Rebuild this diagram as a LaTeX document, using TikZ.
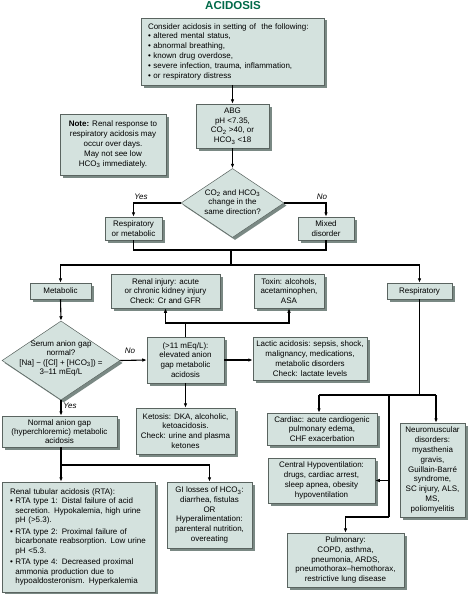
\documentclass[tikz,border=0pt]{standalone}
\usepackage{fontspec}
\setmainfont{Liberation Sans}
\usetikzlibrary{shapes.geometric,arrows.meta,shadows}
\definecolor{boxfill}{RGB}{212,226,222}
\definecolor{shadowc}{RGB}{122,137,132}
\definecolor{boxdraw}{RGB}{90,100,96}
\definecolor{titlec}{RGB}{0,105,72}
\newcommand{\fs}{\fontsize{8}{9.8}\selectfont}
\newcommand{\ind}{\phantom{\textbullet\ }}
\begin{document}
\begin{tikzpicture}[x=1pt,y=-1pt,
  shad/.style={drop shadow={shadow xshift=2.5pt,shadow yshift=-2.5pt,fill=shadowc,opacity=1}},
  box/.style={draw=boxdraw, line width=0.5pt, fill=boxfill, shad, align=center, font=\fs, inner sep=2pt},
  dia/.style={diamond, draw=boxdraw, line width=0.5pt, fill=boxfill, shad, inner sep=0pt},
  txt/.style={align=center, font=\fs, inner sep=0pt},
  conn/.style={line width=1.1pt},
  arr/.style={conn, -{Latex[length=4.5pt,width=3.6pt]}},
  lbl/.style={font=\fs\itshape, inner sep=0pt}
]
\useasboundingbox (0,0) rectangle (474,594);

\node[font=\fontsize{11.5}{13}\selectfont\bfseries, text=titlec, anchor=base, inner sep=0pt] (title) at (233,9.6) {ACIDOSIS};

\node[box, minimum width=183pt, minimum height=67pt, align=left, text width=169pt, inner xsep=7pt] (consider) at (232.5,51.5)
 {Consider acidosis in setting of\ \ the following:\\
  \textbullet\ altered mental status,\\
  \textbullet\ abnormal breathing,\\
  \textbullet\ known drug overdose,\\
  \textbullet\ severe infection, trauma, inflammation,\\
  \textbullet\ or respiratory distress};

\node[box, minimum width=73pt, minimum height=44pt] (abg) at (232.5,126)
 {ABG\\ pH <7.35,\\ CO\textsubscript{2} >40, or\\ HCO\textsubscript{3} <18};

\node[box, minimum width=106pt, minimum height=61pt] (note) at (113,144.5)
 {\textbf{Note:} Renal response to\\ respiratory acidosis may\\ occur over days.\\ May not see low\\ HCO\textsubscript{3} immediately.};

\node[dia, minimum width=103pt, minimum height=69pt] (dq) at (232.5,203) {};
\node[txt] (dqt) at (232.5,202) {CO\textsubscript{2} and HCO\textsubscript{3}\\ change in the\\ same direction?};

\node[box, minimum width=57pt, minimum height=23pt] (rm) at (133.5,228.5) {Respiratory\\ or metabolic};
\node[box, minimum width=56pt, minimum height=23pt] (mixed) at (326,228.5) {Mixed\\ disorder};

\node[box, minimum width=61pt, minimum height=16pt] (metab) at (60.5,291) {Metabolic};
\node[box, minimum width=65pt, minimum height=16pt] (resp) at (419.5,291) {Respiratory};

\node[box, minimum width=109pt, minimum height=34pt] (renal) at (165.5,291)
 {Renal injury: acute\\ or chronic kidney injury\\ Check: Cr and GFR};
\node[box, minimum width=70pt, minimum height=34pt] (toxin) at (289,291)
 {Toxin: alcohols,\\ acetaminophen,\\ ASA};

\node[box, minimum width=77pt, minimum height=46pt] (elev) at (185.5,360)
 {(>11 mEq/L):\\ elevated anion\\ gap metabolic\\ acidosis};
\node[box, minimum width=114pt, minimum height=43pt] (lactic) at (310,358.5)
 {Lactic acidosis: sepsis, shock,\\ malignancy, medications,\\ metabolic disorders\\ Check: lactate levels};

\node[dia, minimum width=118pt, minimum height=79pt] (ag) at (61,360.5) {};
\node[txt, font=\fontsize{8}{9.4}\selectfont] (agt) at (61,358.5) {Serum anion gap\\ normal?\\ {[Na]} − ([Cl] + [HCO\textsubscript{3}]) =\\ 3–11 mEq/L};

\node[box, minimum width=115pt, minimum height=31pt, font=\fontsize{8}{9.3}\selectfont] (normal) at (59.5,431.5)
 {Normal anion gap\\ (hyperchloremic) metabolic\\ acidosis};
\node[box, minimum width=99pt, minimum height=46pt] (ketosis) at (185.5,431)
 {Ketosis: DKA, alcoholic,\\ ketoacidosis.\\ Check: urine and plasma\\ ketones};

\node[box, minimum width=153pt, minimum height=110pt, align=left, text width=137pt, inner xsep=8pt, font=\fontsize{8}{9.5}\selectfont] (rta) at (78.5,537)
 {Renal tubular acidosis (RTA):\\
  \textbullet\ RTA type 1: Distal failure of acid\\
  \ind secretion. Hypokalemia, high urine\\
  \ind pH (>5.3).\\[2pt]
  \textbullet\ RTA type 2: Proximal failure of\\
  \ind bicarbonate reabsorption. Low urine\\
  \ind pH <5.3.\\[2pt]
  \textbullet\ RTA type 4: Decreased proximal\\
  \ind ammonia production due to\\
  \ind hypoaldosteronism. Hyperkalemia};

\node[box, minimum width=85pt, minimum height=66pt] (gi) at (209.5,515)
 {GI losses of HCO\textsubscript{3}:\\ diarrhea, fistulas\\ OR\\ Hyperalimentation:\\ parenteral nutrition,\\ overeating};

\node[box, minimum width=110pt, minimum height=32pt] (cardiac) at (322,429)
 {Cardiac: acute cardiogenic\\ pulmonary edema,\\ CHF exacerbation};
\node[box, minimum width=107pt, minimum height=45pt] (central) at (321.5,480.5)
 {Central Hypoventilation:\\ drugs, cardiac arrest,\\ sleep apnea, obesity\\ hypoventilation};
\node[box, minimum width=65pt, minimum height=94pt] (neuro) at (432.5,470)
 {Neuromuscular\\ disorders:\\ myasthenia\\ gravis,\\ Guillain-Barré\\ syndrome,\\ SC injury, ALS,\\ MS,\\ poliomyelitis};
\node[box, minimum width=117pt, minimum height=54pt] (pulm) at (345.5,560)
 {Pulmonary:\\ COPD, asthma,\\ pneumonia, ARDS,\\ pneumothorax–hemothorax,\\ restrictive lung disease};

% labels
\node[lbl] (yes1) at (141,197) {Yes};
\node[lbl] (no1) at (322,197) {No};
\node[lbl] (no2) at (130,351) {No};
\node[lbl] (yes2) at (70,406) {Yes};

% junctions
\coordinate (j1) at (231,250);
\coordinate (j2) at (231,265);
\coordinate (j3) at (185.5,323);
\coordinate (j4) at (61,465);
\coordinate (cj) at (319,395);
\coordinate (nj) at (436,395);
\coordinate (pj) at (389,395);
\coordinate (pk) at (389,517);

% connectors
\draw[arr] (consider.south) -- (abg.north);
\draw[arr] (abg.south) -- (dq.north);
\draw[arr] (dq.west) -| (rm.north);
\draw[arr] (dq.east) -| (mixed.north);
\draw[conn] (rm.south) |- (j1);
\draw[conn] (mixed.south) |- (j1);
\draw[conn] (j1) -- (j2);
\draw[arr] (j2) -| (metab.north);
\draw[arr] (j2) -| (resp.north);
\draw[arr] (metab.south) -- (ag.north);
\draw[arr] (ag.east) -- (elev.west);
\draw[arr] (ag.south) -- (normal.north -| ag.south);
\draw[conn] (elev.north) -- (j3);
\draw[arr] (j3) -| (renal.south);
\draw[arr] (j3) -| (toxin.south);
\draw[arr] (elev.east) -- (elev.east -| lactic.west);
\draw[arr] (elev.south) -- (ketosis.north);
\draw[conn] (normal.south -| j4) -- (j4);
\draw[arr] (j4) -- (j4 |- rta.north);
\draw[arr] (j4) -| (gi.north);
\draw[conn] (resp.south) -- (resp.south |- cj);
\draw[conn] (cj) -- (nj);
\draw[arr] (cj) -- (cj |- cardiac.north);
\draw[arr] (nj) -- (nj |- neuro.north);
\draw[conn] (pj) -- (pk);
\draw[arr] (pk) -| (pulm.north);
\draw[arr] (pj |- central.east) -- (central.east);
\end{tikzpicture}
\end{document}
